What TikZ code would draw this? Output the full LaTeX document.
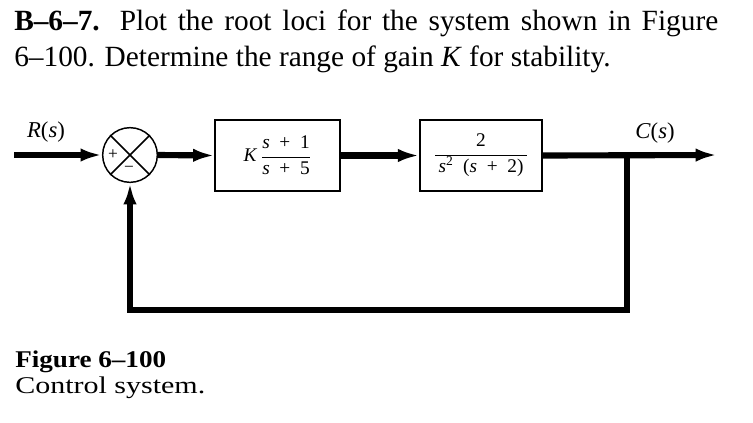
\documentclass[tikz,border=0pt]{standalone}
\usepackage{fontspec}
\setmainfont{Liberation Serif}
\usetikzlibrary{arrows.meta}

\begin{document}
\begin{tikzpicture}[x=0.75pt,y=-0.75pt,
  sig/.style={line width=4.6pt},
  sigarrow/.style={sig,-{Latex[length=16pt,width=10pt]}},
  tfbox/.style={draw,line width=1.1pt,minimum height=53pt,inner sep=0pt},
  sumjunc/.style={draw,circle,line width=1.1pt,minimum size=41pt,inner sep=0pt},
  lbl/.style={font=\fontsize{17}{19}\selectfont},
  boxtxt/.style={font=\fontsize{14.5}{17}\selectfont},
  sign/.style={font=\fontsize{13}{14}\selectfont,inner sep=0pt},
  txt/.style={anchor=base west,inner sep=0pt}]
  \useasboundingbox (0,0) rectangle (753,422);

  % problem text
  \node[txt,font=\fontsize{22}{26}\selectfont] (line1) at (14,30)
    {\makebox[528pt][s]{\textbf{B–6–7.} Plot the root loci for the system shown in Figure}};
  \node[txt,font=\fontsize{22}{26}\selectfont] (line2) at (14,66)
    {6–100. Determine the range of gain \textit{K} for stability.};

  % blocks
  \node[sumjunc] (sum) at (130,155) {};
  \draw[line width=1.1pt] (sum.north west) -- (sum.south east);
  \draw[line width=1.1pt] (sum.north east) -- (sum.south west);
  \node[sign] (plus) at (113,155) {+};
  \node[sign] (minus) at (129,169) {−};
  \node[tfbox,minimum width=93.5pt,boxtxt] (ctrl) at (277.5,155.5)
    {\textit{K}\,$\displaystyle\frac{\mbox{\textit{s}\enspace+\enspace1}}{\mbox{\textit{s}\enspace+\enspace5}}$};
  \node[tfbox,minimum width=91.5pt,boxtxt] (plant) at (481,155.5)
    {$\displaystyle\frac{\mbox{2}}{\mbox{\,\textit{s}\textsuperscript{2}\enspace(\textit{s}\enspace+\enspace2)\,}}$};

  % signals
  \coordinate (in) at (14,155);
  \coordinate (out) at (717,155);
  \coordinate (branch) at (627,155);
  \coordinate (bottom) at (627,310);
  \node[lbl] (rlabel) at (46,132) {\textit{R}(\textit{s})};
  \node[lbl] (clabel) at (655,133) {\textit{C}(\textit{s})};

  \draw[sigarrow] (in) -- (sum.west);
  \draw[sigarrow] (sum.east) -- (ctrl.west);
  \draw[sigarrow] (ctrl.east) -- (plant.west);
  \draw[sigarrow] (plant.east) -- (out);
  % feedback
  \draw[sigarrow] (branch) -- (bottom) -| (sum.south);

  % caption
  \node[txt,font=\fontsize{18}{21}\selectfont] (figno) at (15,367)
    {\scalebox{1.13}[1]{\textbf{Figure 6–100}}};
  \node[txt,font=\fontsize{18}{21}\selectfont] (figcap) at (15,393)
    {\scalebox{1.25}[1]{Control system.}};
\end{tikzpicture}
\end{document}
